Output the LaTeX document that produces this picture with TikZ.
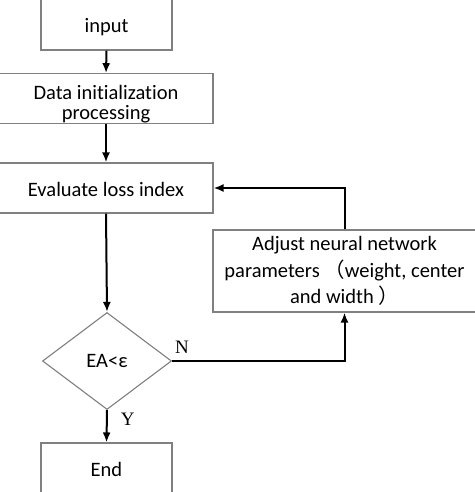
\documentclass[tikz,border=0pt]{standalone}
\usepackage{fontspec}
\setmainfont[Ligatures=NoCommon, Contextuals=NoAlternate, RawFeature={-rlig;-clig}]{Carlito}
\newfontfamily\cjk{Noto Sans CJK SC}
\newfontfamily\labelfont{Liberation Serif}
\usetikzlibrary{shapes.geometric, arrows.meta, positioning}
\begin{document}
\begin{tikzpicture}[x=1pt, y=-1pt,
  box/.style={draw=gray, line width=1.1pt, align=center, inner sep=0pt, font=\fontsize{20.5}{26.7}\selectfont},
  flow/.style={-{Latex[length=10pt, width=8pt]}, line width=2pt},
  yn/.style={font=\labelfont\fontsize{19}{22}\selectfont, inner sep=1pt}]
\useasboundingbox (0,0) rectangle (474,492);
\node [box, minimum width=131, minimum height=53, text height=22pt] (input) at (106.5,23.5) {input};
\node [box, minimum width=214, minimum height=49, font=\fontsize{20.5}{20}\selectfont, text height=46pt] (init) at (106,98.5) {Data initialization\\processing};
\node [box, minimum width=214, minimum height=50, text height=17pt] (loss) at (106,188) {Evaluate loss index};
\node [box, minimum width=263, minimum height=82] (adjust) at (344.5,271) {Adjust neural network\\parameters {\cjk （}weight, center\\and width {\cjk ）}};
\node [box, diamond, minimum width=129, minimum height=97] (judge) at (107,361) {EA<ε};
\node [box, minimum width=131, minimum height=52] (stop) at (106.5,469) {End};

\draw [flow] (input.south) -- (init.north);
\draw [flow] (init.south) -- (loss.north);
\draw [flow] (loss.south) -- (judge.north);
\draw [flow] (judge.south) -- (stop.north) node [yn, pos=0.3, right=12pt] {Y};
\draw [flow] (judge.east) node [yn, anchor=south west, xshift=1pt, yshift=6pt] {N} -| (adjust.south);
\draw [flow] (adjust.north) |- (loss.east);
\end{tikzpicture}
\end{document}
